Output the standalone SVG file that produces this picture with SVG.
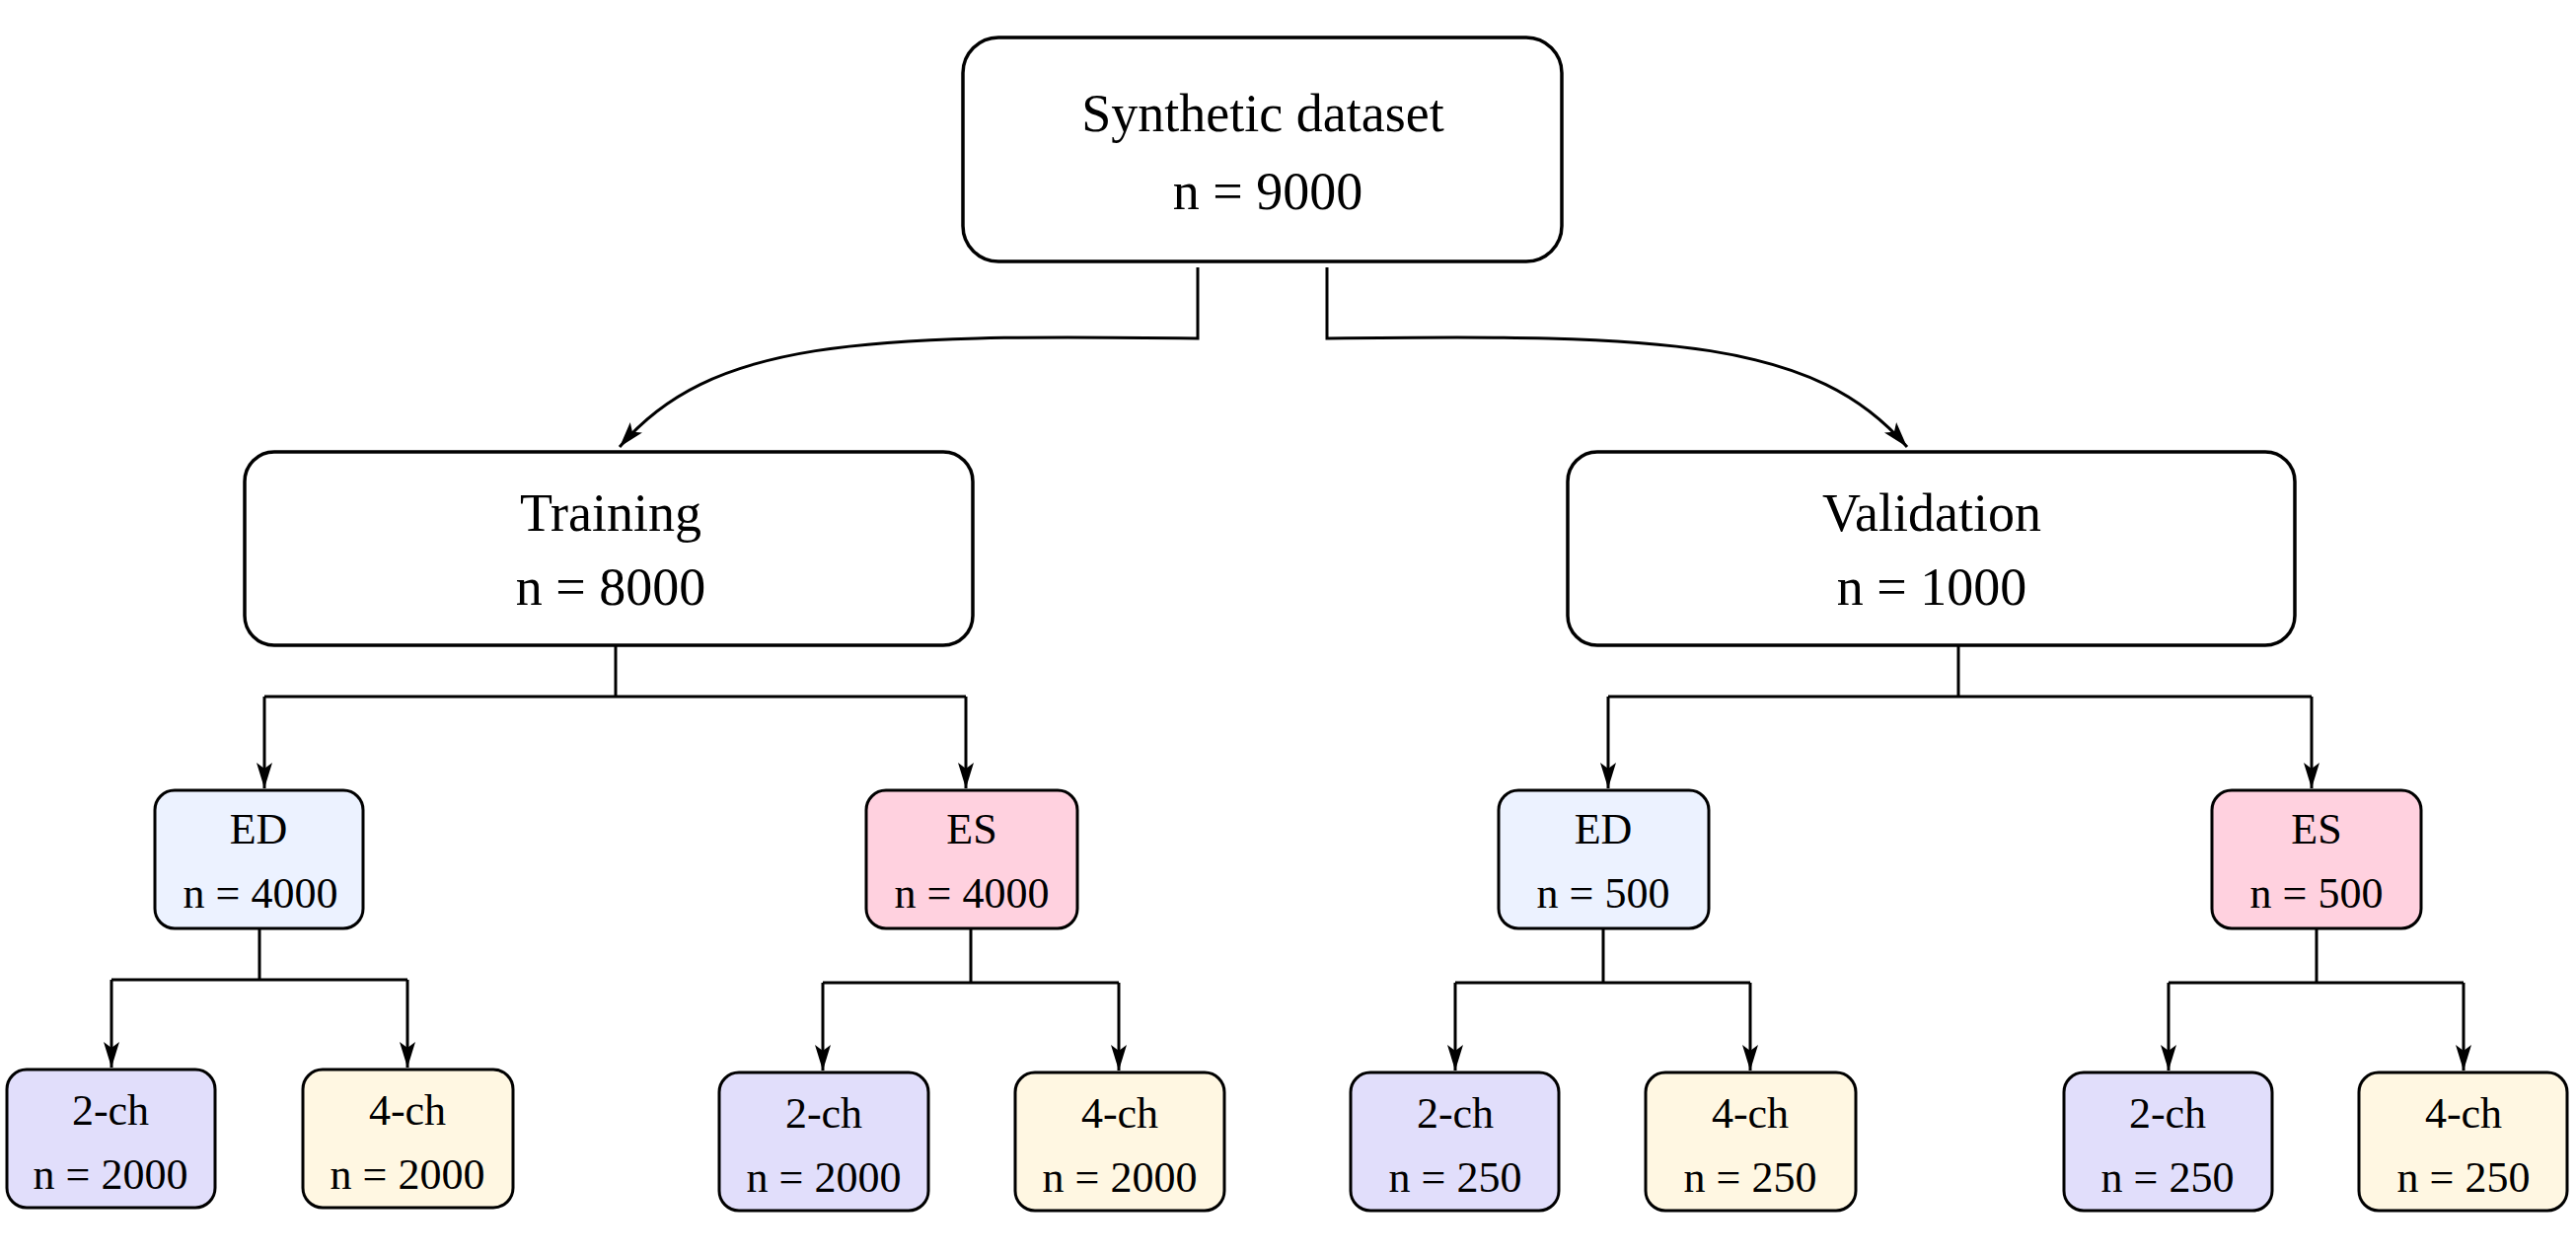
<svg xmlns="http://www.w3.org/2000/svg" width="2611" height="1272" viewBox="0 0 2611 1272">
<style>
.b{stroke:#000;stroke-width:3.5;}
.s{stroke:#000;stroke-width:3;}
.w{fill:#fff}.ed{fill:#ECF2FF}.es{fill:#FFD1DF}.c2{fill:#E1DEFB}.c4{fill:#FFF7E2}
text{font-family:"Liberation Serif","DejaVu Serif",serif;fill:#000;text-anchor:middle}
.L{font-size:54px}.S{font-size:44px}
.c{fill:none;stroke:#000;stroke-width:3}
</style>
<defs>
<marker id="a" markerUnits="userSpaceOnUse" markerWidth="30" markerHeight="30" viewBox="0 0 30 30" refX="26" refY="15" orient="auto">
<path d="M0,7 L26,15 L0,23 L6,15 Z" fill="#000"/>
</marker>
</defs>
<g id="connectors">
<path class="c" d="M1214,271 V343 C870,338 720,345 628,453" marker-end="url(#a)"/>
<path class="c" d="M1345,271 V343 C1690,338 1840,345 1933,453" marker-end="url(#a)"/>
<path class="c" d="M624,654 V706"/>
<path class="c" d="M268,706 H979"/>
<path class="c" d="M268,706 V799" marker-end="url(#a)"/>
<path class="c" d="M979,706 V799" marker-end="url(#a)"/>
<path class="c" d="M1985,654 V706"/>
<path class="c" d="M1630,706 H2343"/>
<path class="c" d="M1630,706 V799" marker-end="url(#a)"/>
<path class="c" d="M2343,706 V799" marker-end="url(#a)"/>
<path class="c" d="M263,941 V993 M113,993 H413"/>
<path class="c" d="M113,993 V1082" marker-end="url(#a)"/>
<path class="c" d="M413,993 V1082" marker-end="url(#a)"/>
<path class="c" d="M984,941 V996 M834,996 H1134"/>
<path class="c" d="M834,996 V1085" marker-end="url(#a)"/>
<path class="c" d="M1134,996 V1085" marker-end="url(#a)"/>
<path class="c" d="M1625,941 V996 M1475,996 H1774"/>
<path class="c" d="M1475,996 V1085" marker-end="url(#a)"/>
<path class="c" d="M1774,996 V1085" marker-end="url(#a)"/>
<path class="c" d="M2348,941 V996 M2198,996 H2497"/>
<path class="c" d="M2198,996 V1085" marker-end="url(#a)"/>
<path class="c" d="M2497,996 V1085" marker-end="url(#a)"/>
</g>
<g id="root"><rect class="b w" x="976" y="38" width="607" height="227" rx="36"/><text class="L" x="1280" y="133">Synthetic dataset</text><text class="L" x="1285" y="212">n = 9000</text></g>
<g id="training"><rect class="b w" x="248" y="458" width="738" height="196" rx="30"/><text class="L" x="619" y="538">Training</text><text class="L" x="619" y="613">n = 8000</text></g>
<g id="validation"><rect class="b w" x="1589" y="458" width="737" height="196" rx="30"/><text class="L" x="1958" y="538">Validation</text><text class="L" x="1958" y="613">n = 1000</text></g>
<g id="train-ed"><rect class="s ed" x="157" y="801" width="211" height="140" rx="20"/><text class="S" x="262" y="855">ED</text><text class="S" x="264" y="920">n = 4000</text></g>
<g id="train-es"><rect class="s es" x="878" y="801" width="214" height="140" rx="20"/><text class="S" x="985" y="855">ES</text><text class="S" x="985" y="920">n = 4000</text></g>
<g id="val-ed"><rect class="s ed" x="1519" y="801" width="213" height="140" rx="20"/><text class="S" x="1625" y="855">ED</text><text class="S" x="1625" y="920">n = 500</text></g>
<g id="val-es"><rect class="s es" x="2242" y="801" width="212" height="140" rx="20"/><text class="S" x="2348" y="855">ES</text><text class="S" x="2348" y="920">n = 500</text></g>
<g id="t-ed-2ch"><rect class="s c2" x="7" y="1084" width="211" height="140" rx="20"/><text class="S" x="112" y="1140">2-ch</text><text class="S" x="112" y="1205">n = 2000</text></g>
<g id="t-ed-4ch"><rect class="s c4" x="307" y="1084" width="213" height="140" rx="20"/><text class="S" x="413" y="1140">4-ch</text><text class="S" x="413" y="1205">n = 2000</text></g>
<g id="t-es-2ch"><rect class="s c2" x="729" y="1087" width="212" height="140" rx="20"/><text class="S" x="835" y="1143">2-ch</text><text class="S" x="835" y="1208">n = 2000</text></g>
<g id="t-es-4ch"><rect class="s c4" x="1029" y="1087" width="212" height="140" rx="20"/><text class="S" x="1135" y="1143">4-ch</text><text class="S" x="1135" y="1208">n = 2000</text></g>
<g id="v-ed-2ch"><rect class="s c2" x="1369" y="1087" width="211" height="140" rx="20"/><text class="S" x="1475" y="1143">2-ch</text><text class="S" x="1475" y="1208">n = 250</text></g>
<g id="v-ed-4ch"><rect class="s c4" x="1668" y="1087" width="213" height="140" rx="20"/><text class="S" x="1774" y="1143">4-ch</text><text class="S" x="1774" y="1208">n = 250</text></g>
<g id="v-es-2ch"><rect class="s c2" x="2092" y="1087" width="211" height="140" rx="20"/><text class="S" x="2197" y="1143">2-ch</text><text class="S" x="2197" y="1208">n = 250</text></g>
<g id="v-es-4ch"><rect class="s c4" x="2391" y="1087" width="211" height="140" rx="20"/><text class="S" x="2497" y="1143">4-ch</text><text class="S" x="2497" y="1208">n = 250</text></g>
</svg>
